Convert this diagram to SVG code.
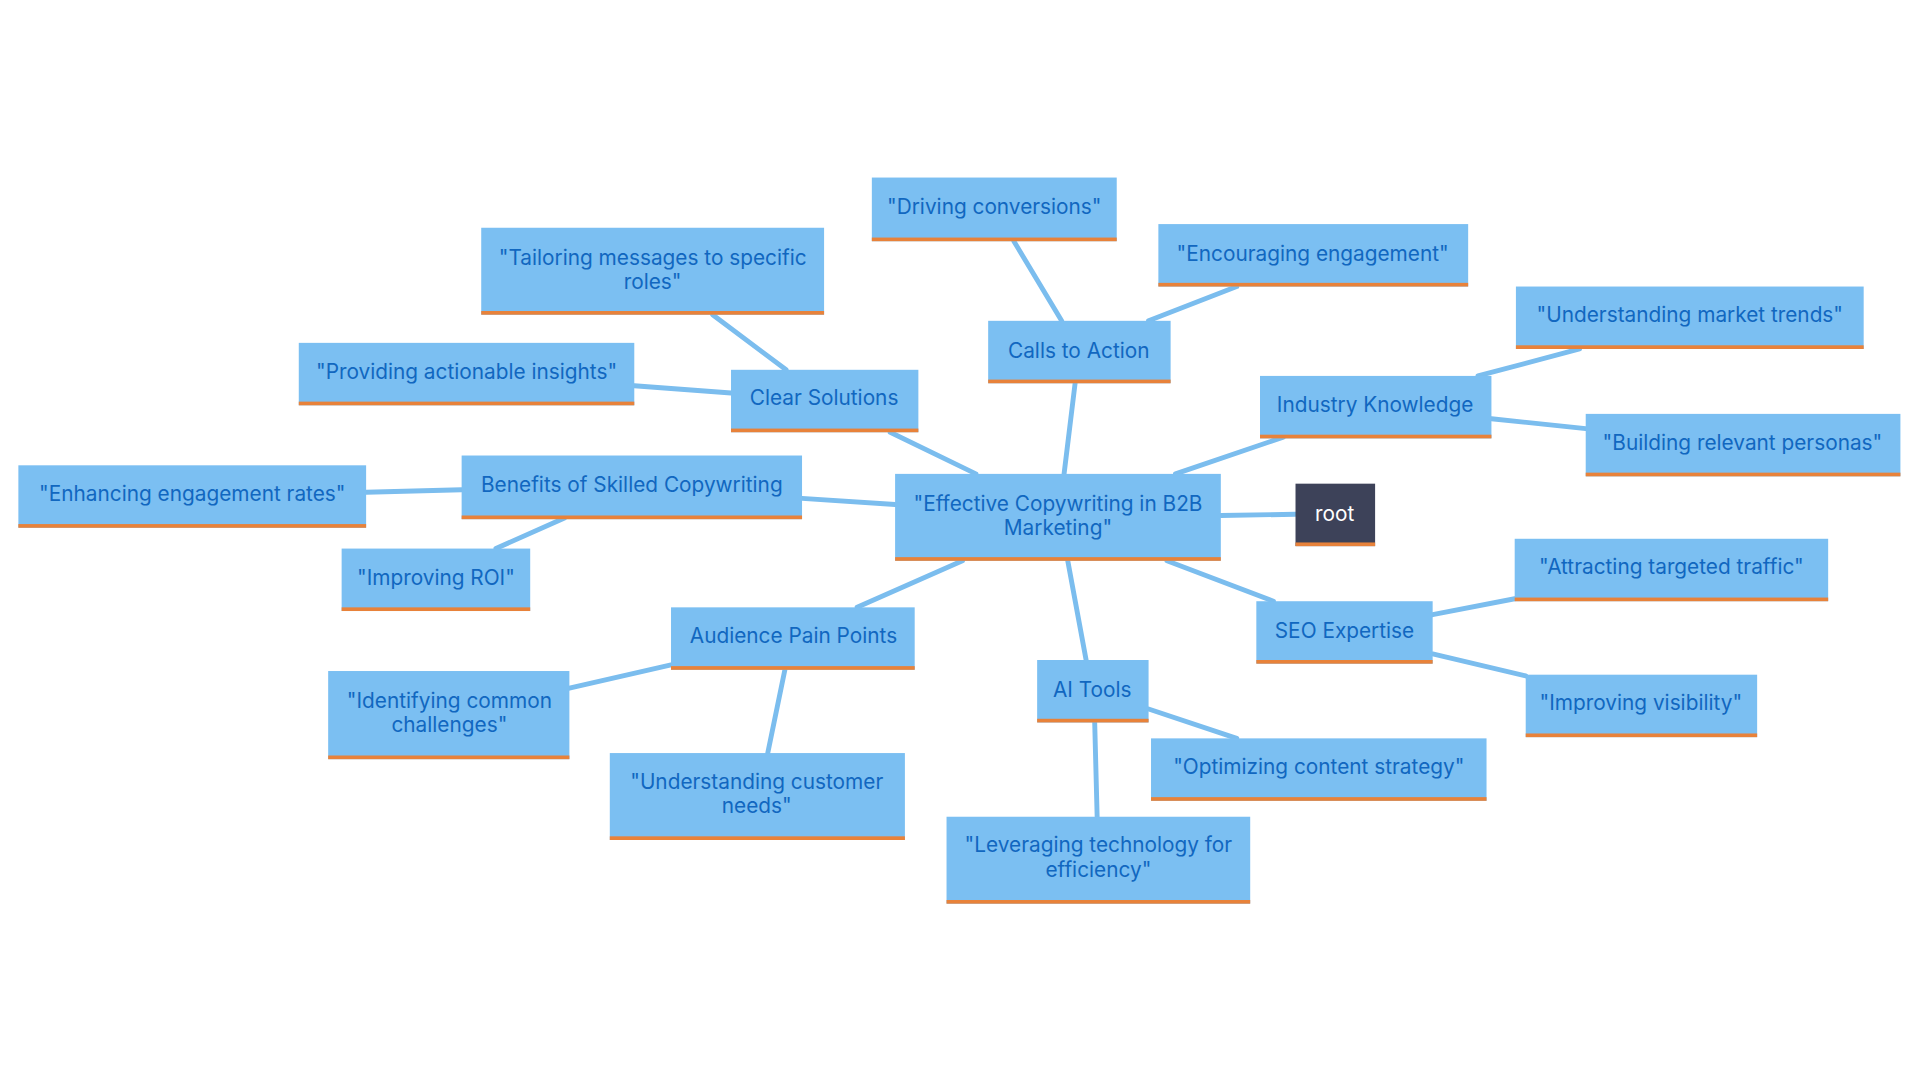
<svg xmlns="http://www.w3.org/2000/svg" width="1920" height="1080" viewBox="0 0 1920 1080">
<style>
.n rect.b{fill:#7bbff2}
.n rect.u{fill:#e8823a}
.n text{font-family:Inter,"Open Sans",sans-serif;font-size:17px;fill:#1167c0;text-anchor:middle;dominant-baseline:central}
#connectors line{stroke:#7bbdee;stroke-width:4;stroke-linecap:round}
</style>
<rect width="1920" height="1080" fill="#fff"/>
<g transform="scale(1.22449)">
<g id="connectors">
<line x1="997" y1="421" x2="1058" y2="420"/>
<line x1="869" y1="387" x2="878" y2="313"/>
<line x1="867" y1="262" x2="828" y2="197"/>
<line x1="938" y1="262" x2="1010" y2="234"/>
<line x1="960" y1="387" x2="1048" y2="357"/>
<line x1="1207" y1="307" x2="1290" y2="285"/>
<line x1="1218" y1="342" x2="1295" y2="350"/>
<line x1="953" y1="458" x2="1040" y2="491"/>
<line x1="1170" y1="502" x2="1237" y2="489"/>
<line x1="1170" y1="534" x2="1246" y2="552"/>
<line x1="872" y1="458" x2="887" y2="539"/>
<line x1="938" y1="579" x2="1010" y2="603"/>
<line x1="894" y1="590" x2="896" y2="667"/>
<line x1="786" y1="458" x2="700" y2="496"/>
<line x1="548" y1="543" x2="465" y2="562"/>
<line x1="641" y1="547" x2="627" y2="615"/>
<line x1="731" y1="412" x2="655" y2="407"/>
<line x1="377" y1="400" x2="299" y2="402"/>
<line x1="461" y1="423" x2="405" y2="448"/>
<line x1="797" y1="387" x2="727" y2="353"/>
<line x1="597" y1="321" x2="518" y2="315"/>
<line x1="642" y1="302" x2="582" y2="257"/>
</g>
<g id="center" class="n"><rect class="b" x="731" y="387" width="266" height="71"/><rect class="u" x="731" y="455" width="266" height="3"/><text x="864" y="411">"Effective Copywriting in B2B</text><text x="864" y="431">Marketing"</text></g>
<g id="root" class="n"><rect x="1058" y="395" width="65" height="51" fill="#3d4259"/><rect class="u" x="1058" y="443" width="65" height="3"/><text x="1090" y="419" style="fill:#fff">root</text></g>
<g id="cta" class="n"><rect class="b" x="807" y="262" width="149" height="51"/><rect class="u" x="807" y="310" width="149" height="3"/><text x="881" y="286">Calls to Action</text></g>
<g id="driving" class="n"><rect class="b" x="712" y="145" width="200" height="52"/><rect class="u" x="712" y="194" width="200" height="3"/><text x="812" y="169">"Driving conversions"</text></g>
<g id="encouraging" class="n"><rect class="b" x="946" y="183" width="253" height="51"/><rect class="u" x="946" y="231" width="253" height="3"/><text x="1072" y="207">"Encouraging engagement"</text></g>
<g id="industry" class="n"><rect class="b" x="1029" y="307" width="189" height="51"/><rect class="u" x="1029" y="355" width="189" height="3"/><text x="1123" y="330">Industry Knowledge</text></g>
<g id="trends" class="n"><rect class="b" x="1238" y="234" width="284" height="51"/><rect class="u" x="1238" y="282" width="284" height="3"/><text x="1380" y="257">"Understanding market trends"</text></g>
<g id="personas" class="n"><rect class="b" x="1295" y="338" width="257" height="51"/><rect class="u" x="1295" y="386" width="257" height="3"/><text x="1423" y="361">"Building relevant personas"</text></g>
<g id="seo" class="n"><rect class="b" x="1026" y="491" width="144" height="51"/><rect class="u" x="1026" y="539" width="144" height="3"/><text x="1098" y="515">SEO Expertise</text></g>
<g id="traffic" class="n"><rect class="b" x="1237" y="440" width="256" height="51"/><rect class="u" x="1237" y="488" width="256" height="3"/><text x="1365" y="463">"Attracting targeted traffic"</text></g>
<g id="visibility" class="n"><rect class="b" x="1246" y="551" width="189" height="51"/><rect class="u" x="1246" y="599" width="189" height="3"/><text x="1340" y="574">"Improving visibility"</text></g>
<g id="ai" class="n"><rect class="b" x="847" y="539" width="91" height="51"/><rect class="u" x="847" y="587" width="91" height="3"/><text x="892" y="563">AI Tools</text></g>
<g id="optimizing" class="n"><rect class="b" x="940" y="603" width="274" height="51"/><rect class="u" x="940" y="651" width="274" height="3"/><text x="1077" y="626">"Optimizing content strategy"</text></g>
<g id="leveraging" class="n"><rect class="b" x="773" y="667" width="248" height="71"/><rect class="u" x="773" y="735" width="248" height="3"/><text x="897" y="690">"Leveraging technology for</text><text x="897" y="710">efficiency"</text></g>
<g id="audience" class="n"><rect class="b" x="548" y="496" width="199" height="51"/><rect class="u" x="548" y="544" width="199" height="3"/><text x="648" y="519">Audience Pain Points</text></g>
<g id="identifying" class="n"><rect class="b" x="268" y="548" width="197" height="72"/><rect class="u" x="268" y="617" width="197" height="3"/><text x="367" y="572">"Identifying common</text><text x="367" y="592">challenges"</text></g>
<g id="needs" class="n"><rect class="b" x="498" y="615" width="241" height="71"/><rect class="u" x="498" y="683" width="241" height="3"/><text x="618" y="638">"Understanding customer</text><text x="618" y="658">needs"</text></g>
<g id="benefits" class="n"><rect class="b" x="377" y="372" width="278" height="52"/><rect class="u" x="377" y="421" width="278" height="3"/><text x="516" y="396">Benefits of Skilled Copywriting</text></g>
<g id="enhancing" class="n"><rect class="b" x="15" y="380" width="284" height="51"/><rect class="u" x="15" y="428" width="284" height="3"/><text x="157" y="403">"Enhancing engagement rates"</text></g>
<g id="roi" class="n"><rect class="b" x="279" y="448" width="154" height="51"/><rect class="u" x="279" y="496" width="154" height="3"/><text x="356" y="472">"Improving ROI"</text></g>
<g id="clear" class="n"><rect class="b" x="597" y="302" width="153" height="51"/><rect class="u" x="597" y="350" width="153" height="3"/><text x="673" y="325">Clear Solutions</text></g>
<g id="insights" class="n"><rect class="b" x="244" y="280" width="274" height="51"/><rect class="u" x="244" y="328" width="274" height="3"/><text x="381" y="303">"Providing actionable insights"</text></g>
<g id="tailoring" class="n"><rect class="b" x="393" y="186" width="280" height="71"/><rect class="u" x="393" y="254" width="280" height="3"/><text x="533" y="210">"Tailoring messages to specific</text><text x="533" y="230">roles"</text></g>
</g>
</svg>
